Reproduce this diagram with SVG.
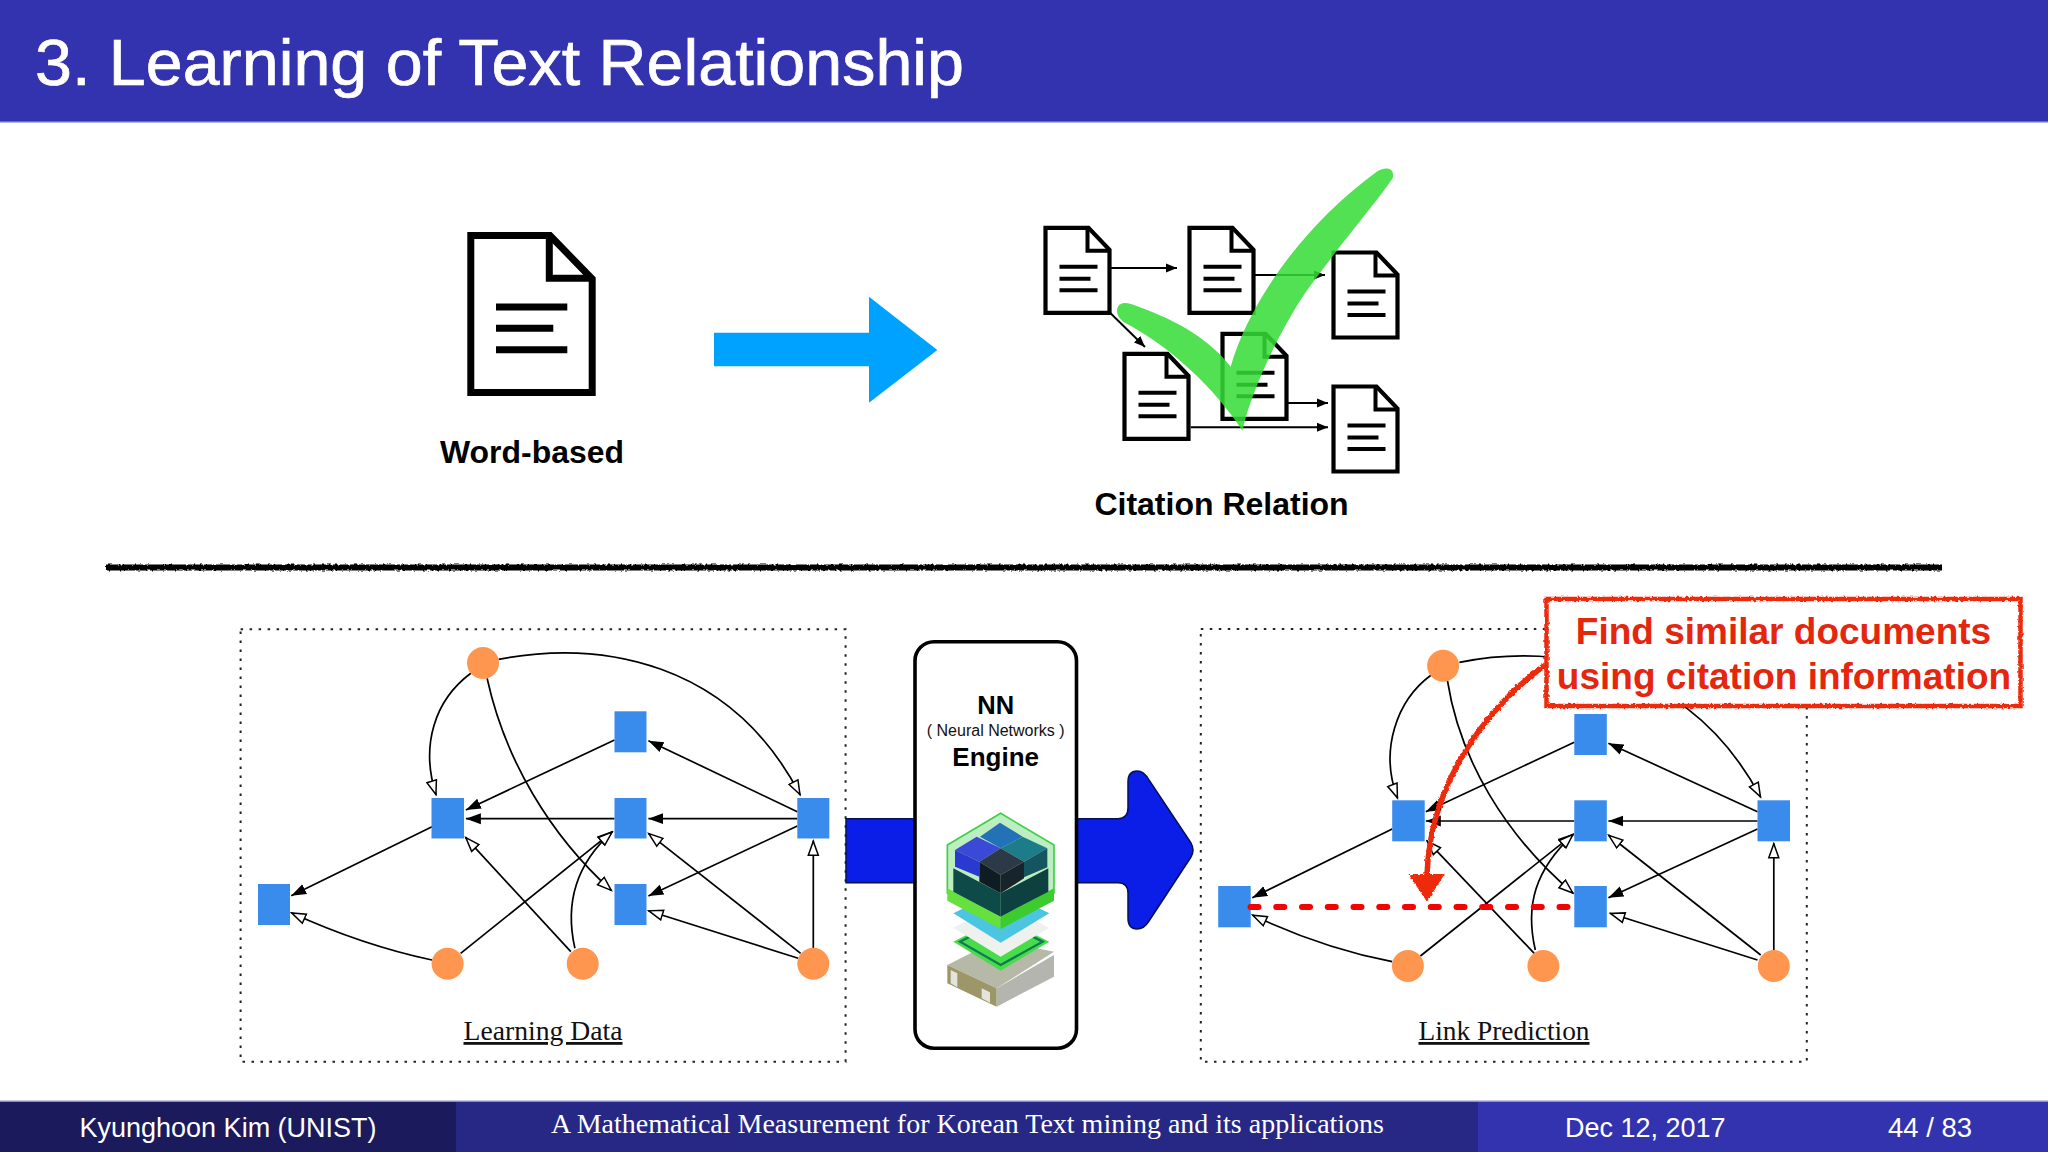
<svg xmlns="http://www.w3.org/2000/svg" xmlns:xlink="http://www.w3.org/1999/xlink" width="2048" height="1152" viewBox="0 0 2048 1152">
<style>
text{font-family:"Liberation Sans",Arial,sans-serif}
.bold{font-weight:700;fill:#000}
.serif{font-family:"Liberation Serif","Times New Roman",serif}
.foot{fill:#fff}
.sq{fill:#3a8cec}
.ci{fill:#ff9650}
.e{fill:none;stroke:#000;stroke-width:1.7}
.o{marker-end:url(#open)}
.f{marker-end:url(#fill)}
.frame{fill:none;stroke:#222;stroke-width:2;stroke-dasharray:2.5 6.5}
.docline{fill:#fff;stroke:#000;stroke-width:4.2;stroke-linejoin:miter}
.docin{fill:none;stroke:#000;stroke-width:4}
.thin{stroke:#000;stroke-width:1.9;fill:none;marker-end:url(#small)}
</style>
<defs>
<marker id="fill" markerUnits="userSpaceOnUse" markerWidth="17" markerHeight="13" refX="15" refY="6.5" orient="auto"><path d="M0,1 L15,6.5 L0,12Z" fill="#000"/></marker>
<marker id="open" markerUnits="userSpaceOnUse" markerWidth="17" markerHeight="13" refX="15.5" refY="6.5" orient="auto"><path d="M1,1.5 L15,6.5 L1,11.5Z" fill="#fff" stroke="#000" stroke-width="1.5"/></marker>
<marker id="small" markerUnits="userSpaceOnUse" markerWidth="12" markerHeight="11" refX="11" refY="5.5" orient="auto"><path d="M0,1 L11,5.5 L0,10Z" fill="#000"/></marker>
<filter id="rough" filterUnits="userSpaceOnUse" x="0" y="0" width="2048" height="1152"><feTurbulence type="fractalNoise" baseFrequency="0.35" numOctaves="2" seed="4"/><feDisplacementMap in="SourceGraphic" scale="3.5" xChannelSelector="R" yChannelSelector="G"/></filter>
<g id="doc">
<path class="docline" d="M0,0 H43 L64,22 V85 H0Z"/>
<path class="docin" d="M42,0 V23 H64 M14,39 H52 M14,51 H45 M14,62.500 H52"/>
</g>
</defs>
<rect width="2048" height="1152" fill="#fff"/>

<g id="header">
<rect width="2048" height="121" fill="#3333b0"/>
<rect y="121" width="2048" height="1.500" fill="#6a6acb"/>
<text x="35" y="84.500" font-size="64" fill="#fff" stroke="#fff" stroke-width="0.700" textLength="929" lengthAdjust="spacingAndGlyphs">3. Learning of Text Relationship</text>
</g>

<g id="word-doc">
<path d="M470.800,235.500 H550 L592.200,279 V392.500 H470.800Z" fill="#fff" stroke="#000" stroke-width="7"/>
<path d="M549.300,236 V278.300 H592" fill="none" stroke="#000" stroke-width="7"/>
<path d="M496,307 H567.300 M496,328.300 H553.300 M496,349.700 H567.300" stroke="#000" stroke-width="7" fill="none"/>
<text class="bold" x="532" y="462.700" font-size="32" text-anchor="middle" textLength="184" lengthAdjust="spacingAndGlyphs">Word-based</text>
</g>
<g id="main-arrow"><path d="M714,332.700 H869 V296.700 L937.300,350 L869,402.700 V366.300 H714Z" fill="#00a2ff"/></g>

<g id="citation">
<g id="citation-links">
<path class="thin" d="M1110.700,268 H1177"/>
<path class="thin" d="M1255,275 H1325"/>
<path class="thin" d="M1110,312.700 L1145,347"/>
<path class="thin" d="M1288,403 H1328"/>
<path class="thin" d="M1190.700,427.300 H1328"/>
</g>
<use id="doc-a" xlink:href="#doc" href="#doc" x="1045.500" y="227.800"/>
<use id="doc-b" xlink:href="#doc" href="#doc" x="1189.500" y="227.800"/>
<use id="doc-c" xlink:href="#doc" href="#doc" x="1333.500" y="252.500"/>
<use id="doc-d" xlink:href="#doc" href="#doc" x="1124.500" y="353.800"/>
<use id="doc-e" xlink:href="#doc" href="#doc" x="1222.500" y="333.800"/>
<use id="doc-f" xlink:href="#doc" href="#doc" x="1333.500" y="386.500"/>
<text class="bold" x="1221.500" y="515" font-size="32" text-anchor="middle">Citation Relation</text>
</g>
<g id="checkmark"><path transform="translate(980,150) scale(0.33333)" d="M412,475 C420,450 450,460 470,468 C600,515 690,570 752,650 C800,480 950,240 1190,65 C1225,45 1245,60 1238,85 C1195,150 1075,290 975,430 C895,550 815,720 787,842 C735,760 610,610 430,515 C415,505 408,490 412,475Z" fill="#35dc35" fill-opacity="0.86"/></g>

<g id="divider"><path d="M106,567.500 H1942" stroke="#000" stroke-width="6" filter="url(#rough)"/></g>

<g id="learning-data">
<rect class="frame" x="240.600" y="629.300" width="605" height="432.400"/>
<text class="serif" x="543" y="1040" font-size="28" text-anchor="middle" text-decoration="underline" fill="#111" textLength="159" lengthAdjust="spacingAndGlyphs">Learning Data</text>
<g id="left-connectors">
<path class="e o" d="M470.800,673.300 C435,700 420,745 436.100,795"/>
<path class="e o" d="M498.600,659.300 C600,640 730,660 800.200,795"/>
<path class="e o" d="M487.100,678.300 C505,760 550,835 611.600,890.700"/>
<path class="e f" d="M614.500,740 L465.900,810"/>
<path class="e f" d="M797.300,811.700 L648.400,740.700"/>
<path class="e f" d="M797.300,818.700 H648.400"/>
<path class="e f" d="M614.500,818.700 H465.900"/>
<path class="e f" d="M432,826.700 L291.200,895.700"/>
<path class="e f" d="M797.300,826 L648.400,896"/>
<path class="e o" d="M432,960 Q362,945 291.200,912.700"/>
<path class="e o" d="M460.600,953.300 L612.400,831.700"/>
<path class="e o" d="M570.800,951.700 L465.500,837.300"/>
<path class="e o" d="M574.900,948.300 C565,905 575,865 612.400,831.700"/>
<path class="e o" d="M798.200,958.300 L648.400,910.700"/>
<path class="e o" d="M800.600,953.300 L648.400,833.300"/>
<path class="e o" d="M813.300,948.300 V840.700"/>
</g>
<g id="l-s1"><rect class="sq" x="258" y="884" width="32" height="41"/></g>
<g id="l-s2"><rect class="sq" x="431.500" y="798" width="32.500" height="40.500"/></g>
<g id="l-s3"><rect class="sq" x="614.500" y="711.300" width="32" height="41"/></g>
<g id="l-s4"><rect class="sq" x="614.500" y="798" width="32" height="40.500"/></g>
<g id="l-s5"><rect class="sq" x="614.500" y="884" width="32" height="41"/></g>
<g id="l-s6"><rect class="sq" x="797.300" y="798" width="32" height="40.500"/></g>
<g id="l-c1"><ellipse class="ci" cx="483" cy="663" rx="16" ry="16"/></g>
<g id="l-c2"><ellipse class="ci" cx="447.600" cy="963.700" rx="16" ry="16"/></g>
<g id="l-c3"><ellipse class="ci" cx="582.700" cy="963.700" rx="16" ry="16"/></g>
<g id="l-c4"><ellipse class="ci" cx="813.300" cy="963.700" rx="16" ry="16"/></g>
</g>

<g id="engine-arrow">
<path d="M846,818.700 H1078 H1118 Q1128,818.700 1128,808 V782 Q1128,771 1137,771 Q1144,771 1149,780 L1191,843 Q1195,850 1191,857 L1149,921 Q1144,929 1137,929 Q1128,929 1128,918 V893 Q1128,882.700 1118,882.700 H846Z" fill="#0b1ee8" stroke="#04105a" stroke-width="1.500"/>
</g>
<g id="engine">
<rect x="915" y="641.700" width="161.500" height="406.500" rx="19" fill="#fff" stroke="#000" stroke-width="3.600"/>
<text class="bold" x="995.700" y="714.300" font-size="25.500" text-anchor="middle">NN</text>
<text x="995.700" y="736" font-size="16" text-anchor="middle" fill="#111">( Neural Networks )</text>
<text class="bold" x="995.700" y="765.500" font-size="26" text-anchor="middle">Engine</text>
<g transform="translate(840,630) scale(0.33333)">
<polygon points="322,1005 470,930 642,965 470,1075" fill="#b6b9a8"/>
<polygon points="322,1005 470,1075 470,1130 322,1060" fill="#9c9668"/>
<polygon points="470,1075 642,975 642,1040 470,1130" fill="#b4b5ae"/>
<polygon points="332,1020 352,1030 352,1072 332,1060" fill="#e4e4dc"/>
<polygon points="425,1075 450,1087 450,1118 425,1105" fill="#e4e4dc"/>
<polygon points="340,935 482,862 628,935 482,1022" fill="#48dc48"/>
<polygon points="360,935 482,872 608,935 482,1005" fill="none" stroke="#0d7a55" stroke-width="7"/>
<polygon points="340,893 482,820 628,893 482,980" fill="#eef1ee"/>
<polygon points="340,850 482,780 628,850 482,938" fill="#4cc6e0"/>
<polygon points="322,645 482,550 642,645 642,790 482,870 322,790" fill="#bdeec0" stroke="#3fd04a" stroke-width="5"/>
<polygon points="322,775 482,860 482,897 322,812" fill="#66e03c"/>
<polygon points="482,860 642,775 642,812 482,897" fill="#3ccc2e"/>
<polygon points="340,715 482,790 482,860 340,785" fill="#0d4a48"/>
<polygon points="482,790 625,715 625,785 482,860" fill="#0c4140"/>
<polygon points="345,660 410,620 482,655 418,695" fill="#3a49d6"/>
<polygon points="345,660 418,695 418,740 345,710" fill="#2a3ad0"/>
<polygon points="420,620 480,578 548,620 482,655" fill="#2372b8"/>
<polygon points="482,655 548,620 622,655 552,695" fill="#1d7c8a"/>
<polygon points="552,695 622,655 622,712 552,742" fill="#15555f"/>
<polygon points="418,695 482,655 552,695 482,735" fill="#2c3a48"/>
<polygon points="418,695 482,735 482,790 418,755" fill="#101c24"/>
<polygon points="482,735 552,695 552,745 482,790" fill="#17242c"/>
</g>
</g>

<g id="link-prediction">
<rect class="frame" x="1200.800" y="629" width="606" height="432.700"/>
<text class="serif" x="1504" y="1040" font-size="28" text-anchor="middle" text-decoration="underline" fill="#111" textLength="171" lengthAdjust="spacingAndGlyphs">Link Prediction</text>
<g id="right-connectors">
<path class="e o" d="M1431.200,675 C1397,700 1379,750 1397.600,798.300"/>
<path class="e o" d="M1459.400,662.300 C1560,642 1690,665 1760.700,797.300"/>
<path class="e o" d="M1447.500,681 C1460,760 1505,835 1573.200,893.300"/>
<path class="e f" d="M1574.300,742.300 L1425.800,811.700"/>
<path class="e f" d="M1757.500,811.700 L1608.400,743.300"/>
<path class="e f" d="M1757.500,821 H1608.400"/>
<path class="e f" d="M1574.300,821 H1425.800"/>
<path class="e f" d="M1392.200,829 L1252.300,897.700"/>
<path class="e f" d="M1757.500,829 L1608.400,897.700"/>
<path class="e o" d="M1392.200,961.700 Q1322,948 1252.300,915"/>
<path class="e o" d="M1420.400,956 L1573.200,834.300"/>
<path class="e o" d="M1534.200,953.300 L1426.900,840.700"/>
<path class="e o" d="M1535.300,950 C1525,905 1535,870 1573.200,834.300"/>
<path class="e o" d="M1757.500,960 L1610,913.300"/>
<path class="e o" d="M1760.700,955 L1608.400,835"/>
<path class="e o" d="M1773.800,950 V843.300"/>
</g>
<g id="r-s1"><rect class="sq" x="1218.200" y="886" width="32.500" height="41.300"/></g>
<g id="r-s2"><rect class="sq" x="1392.200" y="800.300" width="32.500" height="41"/></g>
<g id="r-s3"><rect class="sq" x="1574.300" y="714" width="32.500" height="41"/></g>
<g id="r-s4"><rect class="sq" x="1574.300" y="800.300" width="32.500" height="41"/></g>
<g id="r-s5"><rect class="sq" x="1574.300" y="886" width="32.500" height="41.300"/></g>
<g id="r-s6"><rect class="sq" x="1757.500" y="800.300" width="32.500" height="41"/></g>
<g id="r-c1"><ellipse class="ci" cx="1443.100" cy="665.700" rx="16" ry="16"/></g>
<g id="r-c2"><ellipse class="ci" cx="1407.900" cy="966" rx="16" ry="16"/></g>
<g id="r-c3"><ellipse class="ci" cx="1543.400" cy="966" rx="16" ry="16"/></g>
<g id="r-c4"><ellipse class="ci" cx="1773.800" cy="966" rx="16" ry="16"/></g>
<path id="predicted-link" d="M1250.500,907 H1569" stroke="#f60000" stroke-width="6" stroke-linecap="round" stroke-dasharray="8 17.750" fill="none"/>
</g>

<g id="callout">
<path d="M1545,665 C1490,705 1430,780 1427,875" fill="none" stroke="#ee2b10" stroke-width="5.500" filter="url(#rough)"/>
<polygon points="1408.400,874 1444.700,874 1427,901.700" fill="#ee2b10" filter="url(#rough)"/>
<rect x="1546.500" y="599" width="474" height="107" fill="#fff" stroke="#ee2b10" stroke-width="4.500" filter="url(#rough)"/>
<text x="1783.500" y="643.500" font-size="37" font-weight="700" fill="#e5260f" text-anchor="middle">Find similar documents</text>
<text x="1784" y="689" font-size="37" font-weight="700" fill="#e5260f" text-anchor="middle">using citation information</text>
</g>

<g id="footer">
<rect y="1101.500" width="456" height="50.500" fill="#1b1a5c"/>
<rect x="456" y="1101.500" width="1022" height="50.500" fill="#272785"/>
<rect x="1478" y="1101.500" width="570" height="50.500" fill="#3333b0"/>
<rect y="1100.500" width="2048" height="1.200" fill="#8f8fc8"/>
<text class="foot" x="79.500" y="1136.500" font-size="27">Kyunghoon Kim (UNIST)</text>
<text class="foot serif" x="551" y="1133" font-size="28" textLength="833" lengthAdjust="spacingAndGlyphs">A Mathematical Measurement for Korean Text mining and its applications</text>
<text class="foot" x="1565" y="1137" font-size="27">Dec 12, 2017</text>
<text class="foot" x="1888" y="1137" font-size="27.500">44 / 83</text>
</g>
</svg>
